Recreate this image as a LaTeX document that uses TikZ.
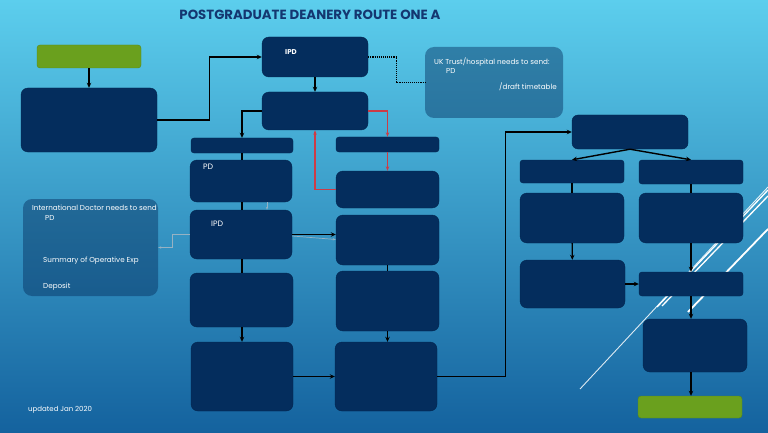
\documentclass[tikz,border=0pt]{standalone}
\usepackage{fontspec}
\setmainfont{Poppins}
\usetikzlibrary{arrows.meta}
\definecolor{navy}{RGB}{4,45,93}
\definecolor{leaf}{RGB}{106,160,30}
\definecolor{leafline}{RGB}{88,135,25}
\definecolor{skytop}{RGB}{92,206,237}
\definecolor{skybot}{RGB}{20,98,158}
\definecolor{titleblue}{RGB}{20,55,112}
\definecolor{redline}{RGB}{205,60,70}
\definecolor{greyline}{RGB}{150,178,195}
\begin{document}
\begin{tikzpicture}[x=1pt,y=-1pt,
  box/.style={fill=navy,draw=navy!85!black,rounded corners=7pt,inner sep=0pt},
  bar/.style={box,rounded corners=3pt},
  start/.style={fill=leaf,draw=leafline,rounded corners=3pt,inner sep=0pt},
  note/.style={fill=navy,fill opacity=0.45,rounded corners=9pt,inner sep=0pt},
  txt/.style={text=white,font=\fontsize{7.2}{9}\selectfont,anchor=west,inner sep=0pt},
  arr/.style={line width=1.4pt,-{Stealth[length=5pt,width=4.5pt]}},
  ln/.style={line width=1.4pt},
  loop/.style={redline,line width=1.2pt,-{Stealth[length=4.5pt]}}]
   % Background
   \useasboundingbox (0,0) rectangle (768,433);
   \shade[top color=skytop,bottom color=skybot] (0,0) rectangle (768,433);
   % Wisps
   \draw[white,opacity=0.85,line width=0.9pt] (580,389) -- (768,187);
   \draw[white,line width=1.3pt] (657,307) -- (768,190);
   \draw[white,line width=1.3pt] (662,306) -- (768,196);
   \draw[white,line width=1.8pt] (688,312) -- (768,229);
   % Title
   \node[text=titleblue,font=\bfseries\fontsize{13.3}{15}\selectfont] (title) at (310,15) {POSTGRADUATE DEANERY ROUTE ONE A};
   % Start
   \node[start,minimum width=104pt,minimum height=23pt] (go) at (89,56.5) {};
   \node[box,minimum width=136pt,minimum height=64pt] (apply) at (89,120) {};
   % Top middle
   \node[box,minimum width=106pt,minimum height=40pt] (ipd) at (315,57) {};
   \node[txt,font=\bfseries\fontsize{7}{9}\selectfont] (ipdtxt) at (285,52) {IPD};
   \node[box,minimum width=106pt,minimum height=38pt] (review) at (315,111) {};
   \node[note,minimum width=138pt,minimum height=71pt] (uk) at (494,82.5) {};
   \node[txt] (uktxt) at (434,62) {UK Trust/hospital needs to send:};
   \node[txt] (ukpd) at (446,71) {PD};
   \node[txt] (ukdraft) at (499,87) {/draft timetable};
   % Left column
   \node[bar,minimum width=102pt,minimum height=15pt] (lhead) at (242,145.5) {};
   \node[box,minimum width=102pt,minimum height=42pt] (pd) at (241,181) {};
   \node[txt,font=\fontsize{7.8}{9}\selectfont] (pdtxt) at (203,167) {PD};
   \node[box,minimum width=102pt,minimum height=49pt] (ipdb) at (241,234.5) {};
   \node[txt,font=\fontsize{7.8}{9}\selectfont] (ipdbtxt) at (211,224) {IPD};
   \node[box,minimum width=103pt,minimum height=54pt] (lmid) at (241.5,300) {};
   \node[box,minimum width=102pt,minimum height=69pt] (lbot) at (242,376.5) {};
   % International doctor
   \node[note,minimum width=135pt,minimum height=97pt] (intl) at (90.5,247.5) {};
   \node[txt] (intltxt) at (32,208) {International Doctor needs to send};
   \node[txt] (intlpd) at (45,218) {PD};
   \node[txt] (intlexp) at (43,261) {Summary of Operative Exp};
   \node[txt] (intldep) at (43,287) {Deposit};
   % Right column
   \node[bar,minimum width=103pt,minimum height=15pt] (rhead) at (387.5,144.5) {};
   \node[box,minimum width=103pt,minimum height=37pt] (rone) at (387.5,189.5) {};
   \node[box,minimum width=103pt,minimum height=50pt] (rtwo) at (387.5,240) {};
   \node[box,minimum width=103pt,minimum height=60pt] (rthree) at (387.5,301) {};
   \node[box,minimum width=102pt,minimum height=69pt] (rbot) at (386,376.5) {};
   % Far right
   \node[box,rounded corners=6pt,minimum width=116pt,minimum height=34pt] (split) at (630,132) {};
   \node[bar,minimum width=104pt,minimum height=23pt] (ahead) at (572,171.5) {};
   \node[bar,minimum width=104pt,minimum height=24pt] (bhead) at (691,172) {};
   \node[box,minimum width=104pt,minimum height=50pt] (aone) at (572,218) {};
   \node[box,minimum width=104pt,minimum height=50pt] (bone) at (691,218) {};
   \node[box,minimum width=105pt,minimum height=48pt] (atwo) at (572.5,284) {};
   \node[bar,minimum width=104pt,minimum height=24pt] (join) at (691,284) {};
   \node[box,minimum width=104pt,minimum height=53pt] (final) at (695,345.5) {};
   \node[start,minimum width=104pt,minimum height=22pt] (done) at (690,407) {};
   % Footer
   \node[txt,font=\fontsize{7}{9}\selectfont] (updated) at (28,410) {updated Jan 2020};
   % Black connectors
   \draw[arr] (go) -- (apply);
   \draw[arr] (apply.east) -- ++(52,0) |- (ipd.west);
   \draw[arr] (ipd) -- (review);
   \draw[arr] (review.west) -| (lhead.north);
   \draw[ln] (lhead.south) -- (lhead.south |- pd.north);
   \draw[ln] (lhead.south |- pd.south) -- (lhead.south |- ipdb.north);
   \draw[ln] (lhead.south |- ipdb.south) -- (lhead.south |- lmid.north);
   \draw[arr] (lhead.south |- lmid.south) -- (lhead.south |- lbot.north);
   \draw[arr] (ipdb.east) -- (ipdb.east -| rtwo.west);
   \draw[ln] (rtwo.south) -- (rthree.north);
   \draw[arr] (rthree.south) -- (rthree.south |- rbot.north);
   \draw[arr] (lbot.east) -- (lbot.east -| rbot.west);
   \draw[arr] (rbot.east) -- ++(68,0) |- (split.west);
   \draw[arr] (split.south) -- (ahead.north);
   \draw[arr] (split.south) -- (bhead.north);
   \draw[ln] (ahead) -- (aone);
   \draw[arr] (aone) -- (atwo);
   \draw[arr] (atwo.east) -- (join.west);
   \draw[ln] (bhead) -- (bone);
   \draw[arr] (bone) -- (join);
   \draw[arr] (join.south) -- (join.south |- final.north);
   \draw[arr] (join.south |- final.south) -- (join.south |- done.north);
   % Dotted link
   \draw[line width=1.1pt,densely dotted] (ipd.east) -- ++(28,0) |- (uk.west);
   % Red loop
   \draw[loop] (review.east) -| (rhead.north);
   \draw[loop] (rhead) -- (rone);
   \draw[loop] (rone.west) -| (review.south);
   % Grey links
   \draw[greyline,line width=0.7pt,-{Stealth[length=3pt]}] (ipdb.west) -- ++(-17,0) |- (intl.east);
   \draw[greyline,line width=0.7pt,-{Stealth[length=3pt]}] ([xshift=26pt]pd.south) -- ([xshift=26pt]pd.south |- ipdb.north);
   \draw[greyline,line width=0.7pt,-{Stealth[length=3pt]}] ([yshift=-1.5pt]ipdb.east) -- ([yshift=-5pt]ipdb.east -| rtwo.west);
\end{tikzpicture}
\end{document}
